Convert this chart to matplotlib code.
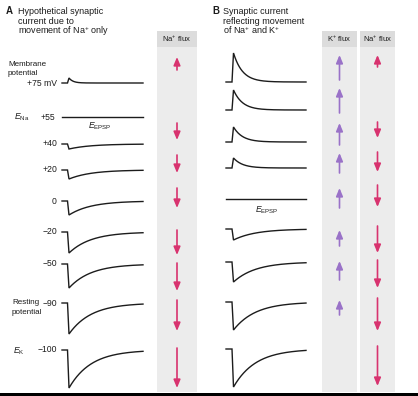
import numpy as np
import matplotlib.pyplot as plt
from matplotlib.patches import Rectangle

plt.rcParams['font.family'] = 'Liberation Sans'
plt.rcParams['mathtext.fontset'] = 'custom'
plt.rcParams['mathtext.rm'] = 'Liberation Sans'
plt.rcParams['mathtext.it'] = 'Liberation Sans:italic'
plt.rcParams['mathtext.bf'] = 'Liberation Sans:bold'

# membrane potential of each row (mV)
potentials = [75, 55, 40, 20, 0, -20, -50, -90, -100]
pot_labels = ['+75 mV', '+55', '+40', '+20', '0', '\u221220', '\u221250', '\u221290', '\u2212100']

# peak of the synaptic potential (+ = depolarising)
peak_a = [5, 0, -5, -9, -14, -21, -24, -31, -38]
peak_b = [29, 20, 15, 10, 0, -11, -20, -28, -38]

# ion flux arrows (+ = outward / up, 0 = none)
na_flux_a = [13, 0, -17, -18, -20, -25, -28, -31, -40]
k_flux_b = [25, 25, 22, 20, 20, 16, 19, 15, 0]
na_flux_b = [12, 0, -16, -20, -22, -27, -28, -33, -40]

# ---- layout (pixels) ----
row_y_a = [83, 117, 144, 170, 201, 232, 264, 303, 350]
row_y_b = [82, 110, 142, 168, 199, 229, 262, 302, 349]
na_y_a = [63.5, 0, 131.5, 164, 198, 242.5, 277, 315.5, 368]
k_y_b = [67.5, 100.5, 134, 163, 198, 238, 270.5, 307.5, 0]
na_y_b = [61, 0, 130, 162, 196, 239.5, 274, 314.5, 366]

NA_COL = '#d8336f'
K_COL = '#9a72c8'
INK = '#1c1c1c'

fig = plt.figure(figsize=(4.18, 3.96), dpi=100)
ax = fig.add_axes([0, 0, 1, 1])
ax.set_xlim(0, 418)
ax.set_ylim(396, 0)
ax.axis('off')


def trace(x0, xs, x1, base, amp, tau):
    x = np.linspace(xs + 1.5, x1, 200)
    y = base - amp * np.exp(-(x - xs - 1.5) / tau)
    xx = np.concatenate([[x0, xs], x])
    yy = np.concatenate([[base, base], y])
    ax.plot(xx, yy, color=INK, lw=1.0, solid_joinstyle='miter')


def arrow(x, yc, length, color):
    if length == 0:
        return
    tail = yc + length / 2.0
    head = yc - length / 2.0
    ax.annotate('', xy=(x, head), xytext=(x, tail),
                arrowprops=dict(arrowstyle='-|>,head_length=0.6,head_width=0.25',
                                color=color, lw=1.2, shrinkA=0, shrinkB=0,
                                mutation_scale=8))


# flux columns
for x0, w in [(157, 40), (322, 35), (360, 35)]:
    ax.add_patch(Rectangle((x0, 31), w, 361, color='#ececec', lw=0))
    ax.add_patch(Rectangle((x0, 31), w, 16, color='#dcdcdc', lw=0))
ax.text(177, 39, 'Na$^{+}$ flux', fontsize=5.5, ha='center', va='center', color=INK)
ax.text(339.5, 39, 'K$^{+}$ flux', fontsize=5.5, ha='center', va='center', color=INK)
ax.text(377.5, 39, 'Na$^{+}$ flux', fontsize=5.5, ha='center', va='center', color=INK)

# titles (one text per line, on baselines)
ax.text(6, 13.5, 'A', fontsize=7, fontweight='bold', va='baseline', color=INK)
for i, s in enumerate(['Hypothetical synaptic', 'current due to',
                       'movement of Na$^{+}$ only']):
    ax.text(18, 13.5 + 10.3 * i, s, fontsize=6.5, va='baseline', color=INK)
ax.text(212, 13.5, 'B', fontsize=7, fontweight='bold', va='baseline', color=INK)
for i, s in enumerate(['Synaptic current', 'reflecting movement',
                       'of Na$^{+}$ and K$^{+}$']):
    ax.text(223, 13.5 + 10.3 * i, s, fontsize=6.5, va='baseline', color=INK)

# side labels
ax.text(8, 65, 'Membrane', fontsize=5.8, va='center', color=INK)
ax.text(8, 73.5, 'potential', fontsize=5.8, va='center', color=INK)
ax.text(14, 117, '$E_{\\mathrm{Na}}$', fontsize=6.2, va='center', color=INK)
ax.text(12, 303, 'Resting', fontsize=5.8, va='center', color=INK)
ax.text(12, 312, 'potential', fontsize=5.8, va='center', color=INK)
ax.text(13, 351, '$E_{\\mathrm{K}}$', fontsize=6.2, va='center', color=INK)

for i, lab in enumerate(pot_labels):
    ax.text(57 if i != 1 else 55, row_y_a[i], lab, fontsize=6.2,
            ha='right', va='center', color=INK)

# panel A traces
for i in range(len(potentials)):
    tau = 4 if peak_a[i] > 0 else 22
    trace(62, 67.5, 143, row_y_a[i], peak_a[i], tau)
    arrow(177, na_y_a[i], na_flux_a[i], NA_COL)

# panel B traces
for i in range(len(potentials)):
    tau = 9 if peak_b[i] > 0 else 22
    trace(226, 232, 306, row_y_b[i], peak_b[i], tau)
    arrow(339.5, k_y_b[i], k_flux_b[i], K_COL)
    arrow(377.5, na_y_b[i], na_flux_b[i], NA_COL)

ax.text(100, 126, '$E_{\\mathrm{EPSP}}$', fontsize=6.2, ha='center', va='center', color=INK)
ax.text(267, 210, '$E_{\\mathrm{EPSP}}$', fontsize=6.2, ha='center', va='center', color=INK)

# scan border at the bottom
ax.add_patch(Rectangle((0, 393), 418, 3, color='black', lw=0))

fig.savefig('out.png', dpi=100)
